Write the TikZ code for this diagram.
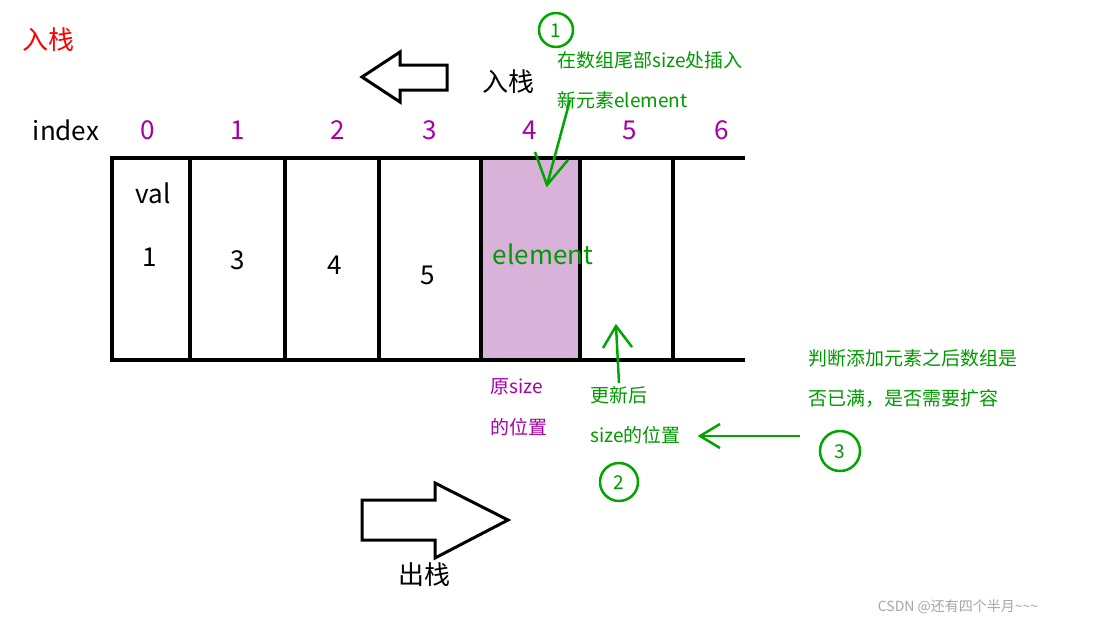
\documentclass[tikz,border=0pt]{standalone}
\usepackage{fontspec}
\setmainfont{Noto Sans CJK SC}
\begin{document}
\begin{tikzpicture}[x=1pt,y=-1pt,
  arr/.style={line width=4pt},
  gr/.style={draw=green!65!black,line width=2.5pt},
  num/.style={font=\fontsize{26}{30}\selectfont},
  pur/.style={text=violet!70!magenta},
  gt/.style={text=green!60!black,font=\fontsize{19}{22}\selectfont,anchor=west,inner sep=0},
  hollow/.style={draw,line width=3pt,fill=white,line join=miter}]
\useasboundingbox (0,0) rectangle (1099,627);
\fill[white] (0,0) rectangle (1099,627);
\node[text=red,font=\fontsize{26}{30}\selectfont] (t1) at (48,40) {入栈};
% left hollow arrow
\draw[hollow] (447,65) -- (400,65) -- (400,52) -- (362,77) -- (400,102) -- (400,90) -- (447,90) -- cycle;
\node[num] (t2) at (508,82) {入栈};
\node[num] (idx) at (66,130) {index};
\foreach \x/\d in {148/0,238/1,338/2,430/3,530/4,630/5,722/6}
  \node[num,pur] (i\d) at (\x,130) {\d};
% array
\fill[violet!30] (481,158) rectangle (580,360);
\draw[arr] (112,158) -- (745,158);
\draw[arr] (112,360) -- (745,360);
\draw[arr] (112,156) -- (112,362);
\foreach \x in {190,285,379,481,580,673} \draw[arr] (\x,158) -- (\x,360);
\node[num] (val) at (153,193) {val};
\node[num] (v1) at (150,257) {1};
\node[num] (v3) at (238,260) {3};
\node[num] (v4) at (335,265) {4};
\node[num] (v5) at (428,275) {5};
\node[num,text=green!60!black] (el) at (543,254) {element};
% circle 1
\draw[gr] (556,30) circle (17);
\node[text=green!60!black,font=\fontsize{19}{22}\selectfont] (c1) at (556,31) {1};
\node[gt] (g1) at (557,60) {在数组尾部size处插入};
\node[gt] (g2) at (557,100) {新元素element};
\coordinate (a1s) at (570,100); \coordinate (a1e) at (547,185);
\draw[gr] (a1s) -- (a1e);
\draw[gr] (535,152) -- (a1e) -- (568,160);
% original size
\node[gt,pur] (p1) at (490,387) {原size};
\node[gt,pur] (p2) at (490,427) {的位置};
\node[gt] (u1) at (590,395) {更新后};
\node[gt] (u2) at (590,435) {size的位置};
\coordinate (a2s) at (619,383); \coordinate (a2e) at (616,326);
\draw[gr] (a2s) -- (a2e);
\draw[gr] (603,348) -- (a2e) -- (632,347);
\draw[gr] (619,482) circle (19);
\node[text=green!60!black,font=\fontsize{19}{22}\selectfont] (c2) at (619,483) {2};
\draw[gr] (840,451) circle (20);
\node[text=green!60!black,font=\fontsize{19}{22}\selectfont] (c3) at (840,452) {3};
\coordinate (a3s) at (800,436); \coordinate (a3e) at (700,436);
\draw[gr] (a3s) -- (a3e);
\draw[gr] (720,424) -- (a3e) -- (720,448);
\node[gt] (j1) at (808,358) {判断添加元素之后数组是};
\node[gt] (j2) at (808,398) {否已满，是否需要扩容};
% right hollow arrow
\draw[hollow] (362,500) -- (435,500) -- (435,483) -- (508,520) -- (435,558) -- (435,540) -- (362,540) -- cycle;
\node[num] (t3) at (424,575) {出栈};
\node[text=gray!70,font=\fontsize{14}{16}\selectfont] (wm) at (958,607) {CSDN @还有四个半月\textasciitilde\textasciitilde\textasciitilde};
\end{tikzpicture}
\end{document}
